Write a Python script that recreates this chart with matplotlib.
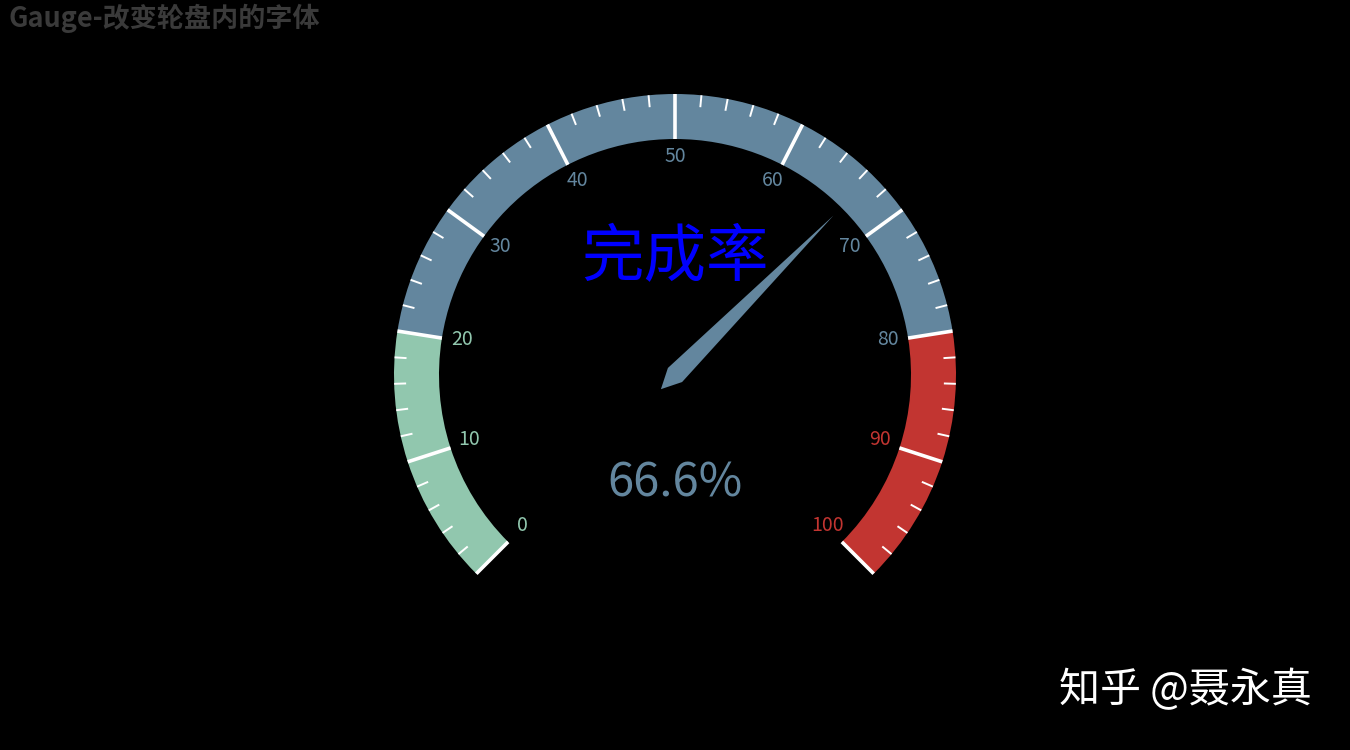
import numpy as np
import matplotlib.pyplot as plt
from matplotlib.patches import Wedge, Polygon

plt.rcParams['font.family'] = ['Noto Sans CJK SC', 'DejaVu Sans']

# gauge data
value = 66.6
gauge_min, gauge_max = 0, 100
split_number = 10
minor_per_split = 5
band_stops = [0.2, 0.8, 1.0]
band_colors = ['#91c7ae', '#63869e', '#c23531']
series_title = "完成率"
chart_title = "Gauge-改变轮盘内的字体"
watermark = "知乎 @聂永真"

W, H = 1350, 750
cx, cy = 675, 375
R = 281
band_w = 45
start_ang, end_ang = 225, -45


def angle_of(v):
    frac = (v - gauge_min) / (gauge_max - gauge_min)
    return start_ang + (end_ang - start_ang) * frac


def color_of(v):
    frac = (v - gauge_min) / (gauge_max - gauge_min)
    for stop, c in zip(band_stops, band_colors):
        if frac <= stop + 1e-9:
            return c
    return band_colors[-1]


fig = plt.figure(figsize=(W / 100, H / 100), dpi=100, facecolor='black')
ax = fig.add_axes([0, 0, 1, 1])
ax.set_xlim(0, W)
ax.set_ylim(0, H)
ax.set_aspect('equal')
ax.axis('off')
ax.set_facecolor('black')

# coloured band
prev = 0.0
for stop, c in zip(band_stops, band_colors):
    a0 = angle_of(gauge_min + prev * (gauge_max - gauge_min))
    a1 = angle_of(gauge_min + stop * (gauge_max - gauge_min))
    ax.add_patch(Wedge((cx, cy), R, a1, a0, width=band_w, facecolor=c,
                       edgecolor='none', zorder=1))
    prev = stop

# minor ticks
n_minor = split_number * minor_per_split
for i in range(n_minor + 1):
    if i % minor_per_split == 0:
        continue
    a = np.radians(angle_of(gauge_min + (gauge_max - gauge_min) * i / n_minor))
    r0, r1 = R - 12, R
    ax.plot([cx + r0 * np.cos(a), cx + r1 * np.cos(a)],
            [cy + r0 * np.sin(a), cy + r1 * np.sin(a)],
            color='white', lw=1.4, solid_capstyle='butt', zorder=2)

# split lines and labels
for i in range(split_number + 1):
    v = gauge_min + (gauge_max - gauge_min) * i / split_number
    a = np.radians(angle_of(v))
    r0, r1 = R - band_w, R
    ax.plot([cx + r0 * np.cos(a), cx + r1 * np.cos(a)],
            [cy + r0 * np.sin(a), cy + r1 * np.sin(a)],
            color='white', lw=2.6, solid_capstyle='butt', zorder=3)
    rl = 216
    ax.text(cx + rl * np.cos(a), cy + rl * np.sin(a) + 2, f"{v:.0f}",
            color=color_of(v), fontsize=14, ha='center', va='center', zorder=3)

# pointer
a = np.radians(angle_of(value))
pw = 10
plen = 0.8 * R
tail = (cx - np.cos(a) * pw * 2, cy - np.sin(a) * pw * 2)
ap = a - np.pi / 2
pts = [tail,
       (cx + np.cos(ap) * pw, cy + np.sin(ap) * pw),
       (cx + np.cos(a) * plen, cy + np.sin(a) * plen),
       (cx - np.cos(ap) * pw, cy - np.sin(ap) * pw)]
ax.add_patch(Polygon(pts, closed=True, facecolor=color_of(value),
                     edgecolor='none', zorder=4))

# title inside gauge and detail value
ax.text(cx, H - 258, series_title, color='#0000ff', fontsize=45,
        ha='center', va='center', zorder=5)
ax.text(cx, H - 483, f"{value}%", color=color_of(value), fontsize=34,
        ha='center', va='center', zorder=5)

# chart title
ax.text(8, H - 18, chart_title, color='#3a3a3a', fontsize=19.5,
        fontweight='bold', ha='left', va='center')

# watermark
ax.text(1312, H - 690, watermark, color='white', fontsize=29.5,
        ha='right', va='center')

fig.savefig('out.png', dpi=100, facecolor='black')
